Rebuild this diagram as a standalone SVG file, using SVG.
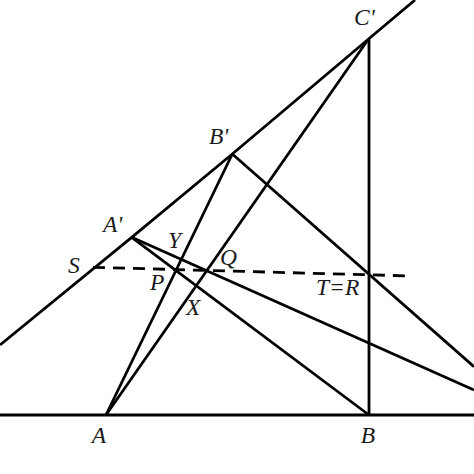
<svg xmlns="http://www.w3.org/2000/svg" width="474" height="474" viewBox="0 0 474 474">
<style>
.l{stroke:#000;stroke-width:2.8;fill:none;stroke-linecap:butt;stroke-linejoin:round}
.d{stroke:#000;stroke-width:2.8;fill:none;stroke-dasharray:12 8}
text{font-family:"Liberation Serif","Times New Roman",serif;font-style:italic;font-size:23.5px;fill:#1a1a1a}
</style>
<rect width="474" height="474" fill="#fff"/>
<g id="lines">
<line class="l" x1="0" y1="415" x2="474" y2="415"/>
<polyline class="l" points="0,345 131.7,237.3 232.3,154 368.3,39.3 415,0"/>
<line class="l" x1="369" y1="39.3" x2="369" y2="415"/>
<line class="l" x1="368.3" y1="39.3" x2="106" y2="415"/>
<line class="l" x1="232.3" y1="154" x2="106" y2="415"/>
<line class="l" x1="232.3" y1="154" x2="474" y2="366.7"/>
<line class="l" x1="131.7" y1="237.3" x2="369" y2="415"/>
<line class="l" x1="131.7" y1="237.3" x2="474" y2="390"/>
<line class="d" x1="93" y1="267.3" x2="412" y2="276"/>
</g>
<g id="labels">
<text x="99" y="443" text-anchor="middle">A</text>
<text x="368" y="443" text-anchor="middle">B</text>
<text x="354" y="25">C'</text>
<text x="209" y="144">B'</text>
<text x="103" y="232">A'</text>
<text x="168" y="248">Y</text>
<text x="68" y="273">S</text>
<text x="220" y="265">Q</text>
<text x="150" y="290">P</text>
<text x="186" y="315">X</text>
<text x="316" y="295">T=R</text>
</g>
</svg>
